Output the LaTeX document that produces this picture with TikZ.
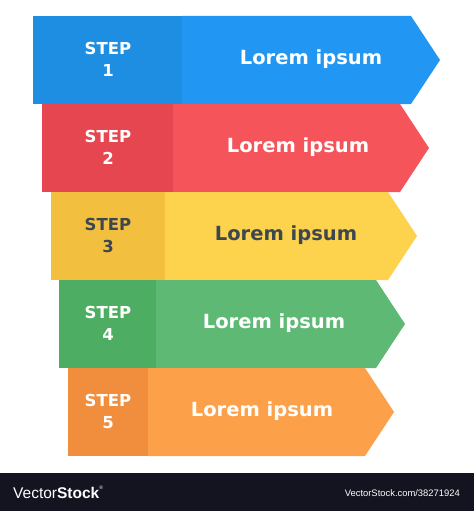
\documentclass[tikz,border=0pt]{standalone}
\usepackage{fontspec}
\setmainfont{DejaVu Sans}
\newfontfamily\barfont{Liberation Sans}
\definecolor{b1d}{HTML}{1E8EE2}\definecolor{b1l}{HTML}{2196F3}
\definecolor{b2d}{HTML}{E6464F}\definecolor{b2l}{HTML}{F5545B}
\definecolor{b3d}{HTML}{F2BF3E}\definecolor{b3l}{HTML}{FDD24D}
\definecolor{b4d}{HTML}{4DAE63}\definecolor{b4l}{HTML}{5DB974}
\definecolor{b5d}{HTML}{F08E3E}\definecolor{b5l}{HTML}{FCA04A}
\definecolor{darktxt}{HTML}{3D4750}
\definecolor{barbg}{HTML}{13141F}
\tikzset{
  steplabel/.style={font=\bfseries\fontsize{16.5}{22.5}\selectfont, align=center, text=white},
  lorem/.style={font=\bfseries\fontsize{19.5}{24}\selectfont, text=white},
}
\begin{document}
\begin{tikzpicture}[x=1pt,y=-1pt]
\useasboundingbox (0,0) rectangle (474,511);
\fill[white] (0,0) rectangle (474,511);
% band: #1 left, #2 divider, #3 top, #4 arrow start, #5 dark, #6 light
\newcommand\myband[6]{%
  \fill[#6] (#2,#3) -- (#4,#3) -- ({#4+29},{#3+44}) -- (#4,{#3+88}) -- (#2,{#3+88}) -- cycle;
  \fill[#5] (#1,#3) rectangle (#2,{#3+88});
}
\myband{33}{182}{16}{411}{b1d}{b1l}
\myband{42}{173}{104}{400}{b2d}{b2l}
\myband{51}{165}{192}{388}{b3d}{b3l}
\myband{59}{156}{280}{376}{b4d}{b4l}
\myband{68}{148}{368}{365}{b5d}{b5l}
\node[steplabel] (s1) at (108,59.5) {STEP\\1};
\node[steplabel] (s2) at (108,147.5) {STEP\\2};
\node[steplabel,text=darktxt] (s3) at (108,235.5) {STEP\\3};
\node[steplabel] (s4) at (108,323.5) {STEP\\4};
\node[steplabel] (s5) at (108,411.5) {STEP\\5};
\node[lorem] (l1) at (311,59.5) {Lorem ipsum};
\node[lorem] (l2) at (298,147.5) {Lorem ipsum};
\node[lorem,text=darktxt] (l3) at (286,235.5) {Lorem ipsum};
\node[lorem] (l4) at (274,323.5) {Lorem ipsum};
\node[lorem] (l5) at (262,411.5) {Lorem ipsum};
\fill[barbg] (0,473) rectangle (474,511);
\node[anchor=west,text=white,inner sep=0pt,font=\barfont\fontsize{15.5}{18}\selectfont] (vs) at (13,492) {Vector\textbf{Stock}\raisebox{1.1ex}{\fontsize{5}{5}\selectfont\textregistered}};
\node[anchor=east,text=white,inner sep=0pt,font=\barfont\fontsize{9.4}{11}\selectfont] (url) at (460,493) {VectorStock.com/38271924};
\end{tikzpicture}
\end{document}
